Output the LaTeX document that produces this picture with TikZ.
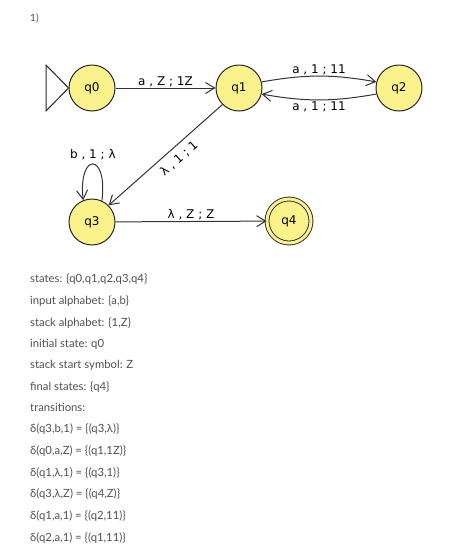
\documentclass[tikz,border=0pt]{standalone}
\usepackage{fontspec}
\setmainfont{Lato}
\newfontfamily\lblfont{DejaVu Sans}
\usetikzlibrary{arrows.meta}
\definecolor{statefill}{RGB}{252,242,140}
\definecolor{txtgray}{RGB}{80,80,80}
\tikzset{
  state/.style={circle, draw=black!85, line width=1pt, fill=statefill, minimum size=46pt, inner sep=0pt, font=\lblfont\fontsize{12}{14}\selectfont},
  accept/.style={state, double=statefill, double distance=3pt, line width=0.9pt, minimum size=44pt},
  trans/.style={draw=black!80, line width=1pt, -{Straight Barb[length=9pt,width=11pt,line width=1pt]}},
  elabel/.style={font=\lblfont\fontsize{12}{14}\selectfont, inner sep=1pt},
  listtext/.style={font=\fontsize{11.3}{13}\selectfont, text=txtgray, anchor=base west, inner sep=0pt}
}
\begin{document}
\begin{tikzpicture}[x=1pt,y=-1pt]
\useasboundingbox (0,0) rectangle (474,544);
\node[listtext, font=\fontsize{10}{12}\selectfont] (num) at (30,21) {1)};
% states
\node[state] (q0) at (92,88) {q0};
\node[state] (q1) at (239,88) {q1};
\node[state] (q2) at (399,88) {q2};
\node[state] (q3) at (92,222) {q3};
\node[accept] (q4) at (289,221) {q4};
% initial triangle
\draw[black!85, line width=1pt] (q0.west) -- (46,65) -- (46,111) -- cycle;
% transitions
\draw[trans] (q0) -- node[elabel, above] {a , Z ; 1Z} (q1);
\draw[trans] (q1.15) to[bend left=10] node[elabel, above] {a , 1 ; 11} (q2.165);
\draw[trans] (q2.195) to[bend left=10] node[elabel, below] {a , 1 ; 11} (q1.345);
\draw[trans] (q1.225) -- node[elabel, sloped, below, pos=0.45, yshift=-5pt] {λ , 1 ; 1} (q3.45);
\draw[trans] (q3.65) .. controls (108,152) and (78,152) .. node[elabel, above, pos=0.5, yshift=3pt] {b , 1 ; λ} (q3.112);
\draw[trans] (q3) -- node[elabel, above] {λ , Z ; Z} (q4);
% text list
\node[listtext] (l1) at (30,282) {states: \{q0,q1,q2,q3,q4\}};
\node[listtext] (l2) at (30,304) {input alphabet: \{a,b\}};
\node[listtext] (l3) at (30,326) {stack alphabet: \{1,Z\}};
\node[listtext] (l4) at (30,347) {initial state: q0};
\node[listtext] (l5) at (30,368) {stack start symbol: Z};
\node[listtext] (l6) at (30,390) {final states: \{q4\}};
\node[listtext] (l7) at (30,411) {transitions:};
\node[listtext] (l8) at (30,432) {δ(q3,b,1) = \{(q3,λ)\}};
\node[listtext] (l9) at (30,454) {δ(q0,a,Z) = \{(q1,1Z)\}};
\node[listtext] (l10) at (30,476) {δ(q1,λ,1) = \{(q3,1)\}};
\node[listtext] (l11) at (30,497) {δ(q3,λ,Z) = \{(q4,Z)\}};
\node[listtext] (l12) at (30,519) {δ(q1,a,1) = \{(q2,11)\}};
\node[listtext] (l13) at (30,541) {δ(q2,a,1) = \{(q1,11)\}};
\end{tikzpicture}
\end{document}
